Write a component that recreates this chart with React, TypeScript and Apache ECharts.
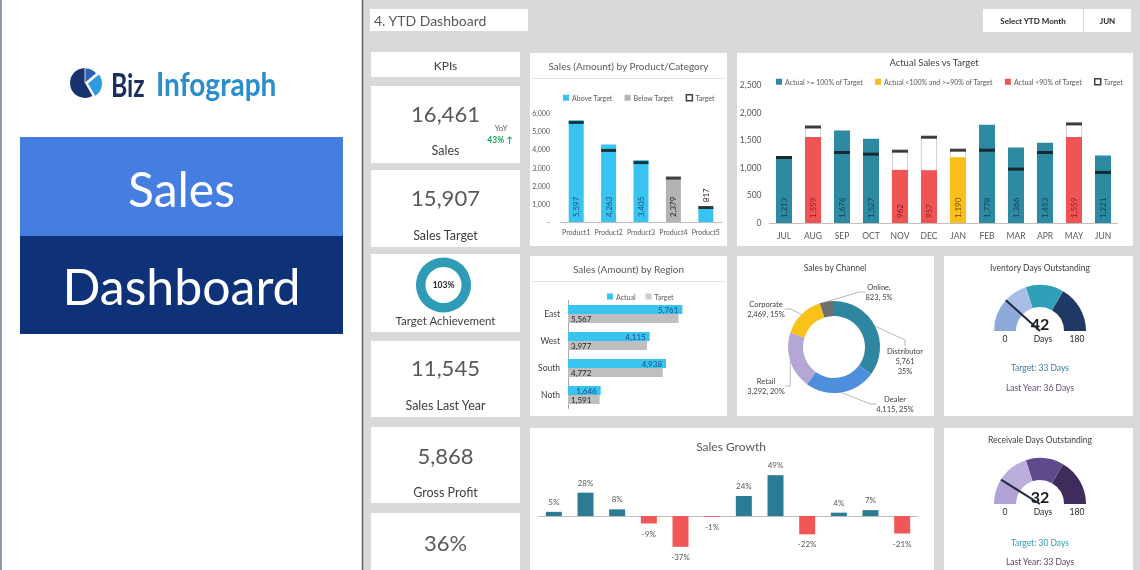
import React, { useEffect, useRef } from 'react';
import * as echarts from 'echarts';

const FONT = 'Lato, "Open Sans", sans-serif';

// KPI figures
const kpiSales = 16461;
const kpiSalesTarget = 15907;
const kpiSalesLastYear = 11545;
const kpiGrossProfit = 5868;

// Sales by product
const products = ['Product1', 'Product2', 'Product3', 'Product4', 'Product5'];
const productSales = [5597, 4263, 3405, 2379, 817];
const productTarget = [5480, 3940, 3270, 2420, 797];
const productTicks = [0, 1000, 2000, 3000, 4000, 5000, 6000];

// Monthly actual vs target
const months = ['JUL', 'AUG', 'SEP', 'OCT', 'NOV', 'DEC', 'JAN', 'FEB', 'MAR', 'APR', 'MAY', 'JUN'];
const monthActual = [1213, 1559, 1676, 1527, 962, 957, 1190, 1778, 1366, 1453, 1559, 1221];
const monthTarget = [1187, 1739, 1277, 1247, 1301, 1554, 1319, 1319, 976, 1277, 1795, 916];
const monthTicks = [0, 500, 1000, 1500, 2000, 2500];

// Sales by region
const regions = ['East', 'West', 'South', 'Noth'];
const regionActual = [5761, 4115, 4938, 1646];
const regionTarget = [5567, 3977, 4772, 1591];

// Sales by channel
const channels = ['Distributor', 'Dealer', 'Retail', 'Corporate', 'Online'];
const channelSales = [5761, 4115, 3292, 2469, 823];

// Year-over-year growth per month (%)
const growthPct = [5, 28, 8, -9, -37, -1, 24, 49, -22, 4, 7, -21];

// Days outstanding
const gaugeRange = [0, 180];
const inventoryDays = 42;
const inventoryTargetDays = 33;
const inventoryLastYearDays = 36;
const receivableDays = 32;
const receivableTargetDays = 30;
const receivableLastYearDays = 33;

const fmt = (v: number) => v.toLocaleString('en-US');

const TEAL = '#2c8aa3';
const YELLOW = '#fbbf1c';
const RED = '#f05555';
const SKY = '#38c3f0';
const GREY_BAR = '#b3b3b3';

const txt = (x: number, y: number, text: string, size: number, fill: string, extra: any = {}) => ({
  type: 'text',
  x,
  y,
  z: 30,
  silent: true,
  style: {
    text,
    fontSize: size,
    fill,
    fontFamily: FONT,
    align: 'center',
    verticalAlign: 'middle',
    ...extra,
  },
});

const box = (x: number, y: number, w: number, h: number, fill = '#ffffff') => ({
  type: 'rect',
  z: -5,
  silent: true,
  shape: { x, y, width: w, height: h },
  style: { fill },
});

const hline = (x1: number, x2: number, y: number, stroke = '#e3e3e3') => ({
  type: 'line',
  z: -4,
  silent: true,
  shape: { x1, y1: y, x2, y2: y },
  style: { stroke, lineWidth: 1 },
});

const deg = (d: number) => (d * Math.PI) / 180;

function gauge(center: number[], value: number, colors: [number, string][]) {
  return {
    type: 'gauge',
    center,
    radius: 46,
    startAngle: 180,
    endAngle: 0,
    min: gaugeRange[0],
    max: gaugeRange[1],
    silent: true,
    axisLine: { lineStyle: { width: 22, color: colors } },
    splitLine: { show: false },
    axisTick: { show: false },
    axisLabel: { show: false },
    pointer: { icon: 'rect', length: '100%', width: 2, itemStyle: { color: '#1f2a3a' } },
    anchor: { show: false },
    title: { offsetCenter: [3, 8], fontSize: 8.5, color: '#262626', fontFamily: FONT },
    detail: { offsetCenter: [0, -8], fontSize: 16, color: '#1a1a1a', fontFamily: FONT, formatter: '{value}' },
    data: [{ value, name: 'Days' }],
  };
}

function buildOption(): any {
  const achievement = Math.round((kpiSales / kpiSalesTarget) * 100);
  const yoy = Math.round(((kpiSales - kpiSalesLastYear) / kpiSalesLastYear) * 100);
  const gpPct = Math.round((kpiGrossProfit / kpiSales) * 100);

  const graphics: any[] = [
    // left banner
    box(0, 0, 363, 570, '#ffffff'),
    { type: 'line', z: -3, silent: true, shape: { x1: 1, y1: 0, x2: 1, y2: 570 }, style: { stroke: '#8c99a6', lineWidth: 2 } },
    { type: 'line', z: -3, silent: true, shape: { x1: 362.5, y1: 0, x2: 362.5, y2: 570 }, style: { stroke: '#5d6772', lineWidth: 1.5 } },
    // logo mark
    { type: 'sector', z: 5, silent: true, shape: { cx: 85, cy: 83, r: 15, r0: 0, startAngle: deg(60), endAngle: deg(270), clockwise: true }, style: { fill: '#16336e' } },
    { type: 'sector', z: 5, silent: true, shape: { cx: 85, cy: 83, r: 15, r0: 0, startAngle: deg(270), endAngle: deg(320), clockwise: true }, style: { fill: '#2a5fb5', stroke: '#fff', lineWidth: 0.8 } },
    { type: 'sector', z: 5, silent: true, shape: { cx: 87.5, cy: 83.5, r: 15, r0: 0, startAngle: deg(320), endAngle: deg(420), clockwise: true }, style: { fill: '#2e9be0', stroke: '#fff', lineWidth: 1 } },
    { ...txt(111, 84, 'Biz', 33, '#1b2e5e', { align: 'left', fontWeight: 'bold' }), scaleX: 0.75 },
    { ...txt(156, 84, 'Infograph', 33, '#2b8cce', { align: 'left', fontWeight: 'bold' }), scaleX: 0.85 },
    box(20, 137, 323, 99, '#467de0'),
    box(20, 236, 323, 98, '#0f3178'),
    txt(181.5, 188, 'Sales', 48, '#ffffff'),
    txt(181.5, 286, 'Dashboard', 50, '#ffffff'),

    // dashboard area
    box(363, 0, 777, 570, '#d9d9d9'),
    box(370, 9, 158, 22),
    txt(374, 20, '4. YTD Dashboard', 14, '#595959', { align: 'left' }),
    box(983, 9, 100, 23),
    box(1084, 9, 47, 23),
    txt(1033, 20.5, 'Select YTD Month', 8, '#262626', { fontWeight: 'bold' }),
    txt(1107.5, 20.5, 'JUN', 8, '#262626', { fontWeight: 'bold' }),

    // KPI column
    box(371, 52, 149, 25),
    txt(445.5, 65, 'KPIs', 12, '#404040'),
    box(371, 86, 149, 77),
    txt(445.5, 113, fmt(kpiSales), 22, '#595959'),
    txt(445.5, 150, 'Sales', 12.5, '#404040'),
    txt(501, 128, 'YoY', 8, '#595959'),
    txt(500, 139.5, `${yoy}% \u2191`, 8.5, '#1aa55a', { fontWeight: 'bold' }),
    box(371, 170, 149, 77),
    txt(445.5, 197, fmt(kpiSalesTarget), 22, '#595959'),
    txt(445.5, 235, 'Sales Target', 12.5, '#404040'),
    box(371, 254, 149, 78),
    txt(445.5, 320, 'Target Achievement', 11.5, '#404040'),
    box(371, 341, 149, 76),
    txt(445.5, 367, fmt(kpiSalesLastYear), 22, '#595959'),
    txt(445.5, 405, 'Sales Last Year', 12.5, '#404040'),
    box(371, 427, 149, 76),
    txt(445.5, 455, fmt(kpiGrossProfit), 22, '#595959'),
    txt(445.5, 492, 'Gross Profit', 12.5, '#404040'),
    box(371, 513, 149, 60),
    txt(445.5, 542, `${gpPct}%`, 22, '#595959'),

    // chart panels
    box(530, 53, 197, 193),
    txt(628.5, 66, 'Sales (Amount) by Product/Category', 10, '#595959'),
    hline(532, 725, 78.5),
    box(737, 53, 396, 193),
    txt(934, 62, 'Actual Sales vs Target', 9.5, '#404040'),
    box(530, 256, 197, 160),
    txt(628.5, 268.5, 'Sales (Amount) by Region', 10, '#595959'),
    hline(532, 725, 281.5),
    box(737, 256, 197, 160),
    txt(835, 267.5, 'Sales by Channel', 8.5, '#404040'),
    box(944, 256, 189, 160),
    txt(1040, 268, 'Iventory Days Outstanding', 8.5, '#404040'),
    txt(1005, 339, String(gaugeRange[0]), 8.5, '#262626'),
    txt(1077, 339, String(gaugeRange[1]), 8.5, '#262626'),
    txt(1040, 368, `Target: ${inventoryTargetDays} Days`, 8.5, '#3b7ea6'),
    txt(1040, 388, `Last Year: ${inventoryLastYearDays} Days`, 8.5, '#5e4a76'),
    box(530, 428, 404, 142),
    txt(731, 446, 'Sales Growth', 12, '#595959'),
    box(944, 428, 189, 142),
    txt(1040, 440, 'Receivale Days Outstanding', 8.5, '#404040'),
    txt(1005, 512, String(gaugeRange[0]), 8.5, '#262626'),
    txt(1077, 512, String(gaugeRange[1]), 8.5, '#262626'),
    txt(1040, 543, `Target: ${receivableTargetDays} Days`, 8.5, '#2e9bb5'),
    txt(1040, 562, `Last Year: ${receivableLastYearDays} Days`, 8.5, '#5f3a5f'),
  ];

  const rotLabel = (color: string) => ({
    show: true,
    position: 'insideBottom',
    rotate: 90,
    align: 'left',
    verticalAlign: 'middle',
    distance: 5,
    fontSize: 8,
    fontFamily: FONT,
    color,
    formatter: (p: any) => fmt(p.value),
  });

  const productItem = (v: number) =>
    v < 1200 ? { value: v, label: { position: 'top', color: '#262626' } } : v;

  const legendText = { fontSize: 7, color: '#595959', fontFamily: FONT, padding: [0, 0, 0, -2] };
  const targetLegend = {
    name: 'Target',
    icon: 'rect',
    itemStyle: { color: '#ffffff', borderColor: '#111111', borderWidth: 1.5 },
  };

  const channelColors = ['#2e86a0', '#4d8fdc', '#b4a7d6', '#f9c21b', '#6f6f6f'];
  const channelLabelAt = [
    [905, 361],
    [895, 404],
    [766, 386],
    [766, 309],
    [879, 292],
  ];

  return {
    animation: false,
    textStyle: { fontFamily: FONT },
    graphic: { elements: graphics },
    legend: [
      {
        left: 558,
        top: 89,
        itemWidth: 6,
        itemHeight: 6,
        itemGap: 12,
        textStyle: legendText,
        selectedMode: false,
        data: [
          { name: 'Above Target', icon: 'rect', itemStyle: { color: SKY } },
          { name: 'Below Target', icon: 'rect', itemStyle: { color: GREY_BAR } },
          targetLegend,
        ],
      },
      {
        left: 771,
        top: 73,
        itemWidth: 6,
        itemHeight: 6,
        itemGap: 12,
        textStyle: legendText,
        selectedMode: false,
        data: [
          { name: 'Actual >= 100% of Target', icon: 'rect', itemStyle: { color: TEAL } },
          { name: 'Actual <100% and >=90% of Target', icon: 'rect', itemStyle: { color: YELLOW } },
          { name: 'Actual <90% of Target', icon: 'rect', itemStyle: { color: RED } },
          targetLegend,
        ],
      },
      {
        left: 602,
        top: 288,
        itemWidth: 6,
        itemHeight: 6,
        itemGap: 10,
        textStyle: legendText,
        selectedMode: false,
        data: [
          { name: 'Actual', icon: 'rect', itemStyle: { color: SKY } },
          { name: 'Target', icon: 'rect', itemStyle: { color: '#bfbfbf' } },
        ],
      },
    ],
    grid: [
      { left: 560, top: 113, width: 162, height: 109 },
      { left: 769.5, top: 85, width: 348, height: 138 },
      { left: 568, top: 300.5, width: 139, height: 108 },
      { left: 538, top: 466, width: 380, height: 100 },
    ],
    xAxis: [
      {
        type: 'category',
        gridIndex: 0,
        data: products,
        axisLine: { lineStyle: { color: '#bfbfbf' } },
        axisTick: { length: 3, lineStyle: { color: '#bfbfbf' } },
        axisLabel: { interval: 0, fontSize: 7, color: '#595959', margin: 6, fontFamily: FONT },
      },
      {
        type: 'category',
        gridIndex: 1,
        data: months,
        axisLine: { lineStyle: { color: '#bfbfbf' } },
        axisTick: { length: 3, lineStyle: { color: '#bfbfbf' } },
        axisLabel: { interval: 0, fontSize: 8.5, color: '#595959', margin: 8, fontFamily: FONT },
      },
      { type: 'value', gridIndex: 2, min: 0, max: 7000, show: false },
      {
        type: 'category',
        gridIndex: 3,
        data: months,
        axisLine: { lineStyle: { color: '#bfbfbf' } },
        axisTick: { length: 3, lineStyle: { color: '#bfbfbf' } },
        axisLabel: { show: false },
      },
    ],
    yAxis: [
      {
        type: 'value',
        gridIndex: 0,
        min: productTicks[0],
        max: productTicks[productTicks.length - 1],
        interval: productTicks[1] - productTicks[0],
        splitLine: { show: false },
        axisLine: { show: false },
        axisTick: { show: false },
        axisLabel: {
          fontSize: 7,
          color: '#595959',
          margin: 10,
          fontFamily: FONT,
          formatter: (v: number) => (v === 0 ? '-' : fmt(v)),
        },
      },
      {
        type: 'value',
        gridIndex: 1,
        min: monthTicks[0],
        max: monthTicks[monthTicks.length - 1],
        interval: monthTicks[1] - monthTicks[0],
        splitLine: { show: false },
        axisLine: { show: false },
        axisTick: { show: false },
        axisLabel: { fontSize: 8.5, color: '#595959', margin: 8, fontFamily: FONT, formatter: (v: number) => fmt(v) },
      },
      {
        type: 'category',
        gridIndex: 2,
        data: regions,
        inverse: true,
        axisLine: { lineStyle: { color: '#a6a6a6' } },
        axisTick: { length: 3, lineStyle: { color: '#a6a6a6' } },
        axisLabel: { interval: 0, fontSize: 8.5, color: '#404040', margin: 8, fontFamily: FONT },
      },
      { type: 'value', gridIndex: 3, min: -60, max: 60, show: false },
    ],
    series: [
      // product bars
      {
        name: 'Above Target',
        type: 'bar',
        xAxisIndex: 0,
        yAxisIndex: 0,
        stack: 'product',
        barWidth: 15,
        silent: true,
        itemStyle: { color: SKY },
        label: rotLabel('#1f4e79'),
        data: productSales.map((v, i) => (v >= productTarget[i] ? productItem(v) : '-')),
      },
      {
        name: 'Below Target',
        type: 'bar',
        xAxisIndex: 0,
        yAxisIndex: 0,
        stack: 'product',
        barWidth: 15,
        silent: true,
        itemStyle: { color: GREY_BAR },
        label: rotLabel('#262626'),
        data: productSales.map((v, i) => (v < productTarget[i] ? productItem(v) : '-')),
      },
      {
        name: 'Target',
        type: 'scatter',
        xAxisIndex: 0,
        yAxisIndex: 0,
        symbol: 'rect',
        symbolSize: [15, 3],
        z: 5,
        silent: true,
        itemStyle: { color: '#111111' },
        data: productTarget,
      },

      // monthly target frame behind actual bars
      {
        name: 'Target range',
        type: 'bar',
        xAxisIndex: 1,
        yAxisIndex: 1,
        barWidth: 16,
        barGap: '-100%',
        silent: true,
        itemStyle: { color: '#ffffff', borderColor: '#c4c4c4', borderWidth: 0.8 },
        data: monthTarget,
      },
      {
        name: 'Actual >= 100% of Target',
        type: 'bar',
        xAxisIndex: 1,
        yAxisIndex: 1,
        stack: 'actual',
        barWidth: 16,
        barGap: '-100%',
        silent: true,
        itemStyle: { color: TEAL },
        label: rotLabel('#173f52'),
        data: monthActual.map((v, i) => (v >= monthTarget[i] ? v : '-')),
      },
      {
        name: 'Actual <100% and >=90% of Target',
        type: 'bar',
        xAxisIndex: 1,
        yAxisIndex: 1,
        stack: 'actual',
        barWidth: 16,
        barGap: '-100%',
        silent: true,
        itemStyle: { color: YELLOW },
        label: rotLabel('#6b4d00'),
        data: monthActual.map((v, i) => (v < monthTarget[i] && v >= 0.9 * monthTarget[i] ? v : '-')),
      },
      {
        name: 'Actual <90% of Target',
        type: 'bar',
        xAxisIndex: 1,
        yAxisIndex: 1,
        stack: 'actual',
        barWidth: 16,
        barGap: '-100%',
        silent: true,
        itemStyle: { color: RED },
        label: rotLabel('#8e1c1c'),
        data: monthActual.map((v, i) => (v < 0.9 * monthTarget[i] ? v : '-')),
      },
      {
        name: 'Target',
        type: 'scatter',
        xAxisIndex: 1,
        yAxisIndex: 1,
        symbol: 'rect',
        symbolSize: [16, 3],
        z: 5,
        silent: true,
        itemStyle: { color: '#111111' },
        data: monthTarget,
      },

      // region bars
      {
        name: 'Actual',
        type: 'bar',
        xAxisIndex: 2,
        yAxisIndex: 2,
        barWidth: 9,
        barGap: '0%',
        silent: true,
        itemStyle: { color: SKY },
        label: {
          show: true,
          position: 'insideRight',
          distance: 4,
          fontSize: 8,
          color: '#1f4e79',
          fontFamily: FONT,
          formatter: (p: any) => fmt(p.value),
        },
        data: regionActual,
      },
      {
        name: 'Target',
        type: 'bar',
        xAxisIndex: 2,
        yAxisIndex: 2,
        barWidth: 9,
        barGap: '0%',
        silent: true,
        itemStyle: { color: '#bfbfbf' },
        label: {
          show: true,
          position: 'insideLeft',
          distance: 3,
          fontSize: 8,
          color: '#262626',
          fontFamily: FONT,
          formatter: (p: any) => fmt(p.value),
        },
        data: regionTarget,
      },

      // growth
      {
        name: 'Growth',
        type: 'bar',
        xAxisIndex: 3,
        yAxisIndex: 3,
        barWidth: 16,
        silent: true,
        label: {
          show: true,
          fontSize: 8,
          color: '#595959',
          distance: 6,
          fontFamily: FONT,
          formatter: (p: any) => `${p.value}%`,
        },
        data: growthPct.map((v) => ({
          value: v,
          itemStyle: { color: v >= 0 ? '#2b7b94' : '#f25757' },
          label: { position: v >= 0 ? 'top' : 'bottom' },
        })),
      },

      // target achievement ring
      {
        name: 'Achievement',
        type: 'pie',
        center: [443.5, 285],
        radius: [18, 27.5],
        silent: true,
        label: { show: false },
        labelLine: { show: false },
        data: [
          {
            value: achievement,
            name: 'Achieved',
            itemStyle: { color: '#2e9cb6' },
            label: {
              show: true,
              position: 'center',
              formatter: `${achievement}%`,
              fontSize: 8.5,
              fontWeight: 'bold',
              color: '#262626',
              fontFamily: FONT,
            },
          },
          { value: Math.max(0, 100 - achievement), name: 'Remaining', itemStyle: { color: '#e6e6e6' } },
        ],
      },

      // channel donut
      {
        name: 'Channel',
        type: 'pie',
        center: [834, 347],
        radius: [31, 46],
        startAngle: 90,
        clockwise: true,
        silent: true,
        percentPrecision: 0,
        label: {
          show: true,
          fontSize: 7.5,
          lineHeight: 10,
          color: '#404040',
          fontFamily: FONT,
          formatter: (p: any) => {
            const v = fmt(p.value);
            if (p.name === 'Online') return `${p.name},\n${v}, ${p.percent}%`;
            if (p.name === 'Distributor') return `${p.name}\n${v}\n${p.percent}%`;
            return `${p.name}\n${v}, ${p.percent}%`;
          },
        },
        labelLine: { show: true, length: 6, length2: 6, lineStyle: { color: '#a6a6a6', width: 0.8 } },
        labelLayout: (params: any) => {
          const at = channelLabelAt[params.dataIndex];
          return { x: at[0], y: at[1], align: 'center', verticalAlign: 'middle' };
        },
        data: channels.map((name, i) => ({
          name,
          value: channelSales[i],
          itemStyle: { color: channelColors[i] },
        })),
      },

      // days outstanding gauges
      gauge([1040, 331], inventoryDays, [
        [inventoryDays / gaugeRange[1], '#8eaadb'],
        [72 / 180, '#a8bee6'],
        [120 / 180, '#2fa0b8'],
        [1, '#203864'],
      ]),
      gauge([1040, 504], receivableDays, [
        [receivableDays / gaugeRange[1], '#b2a2d6'],
        [72 / 180, '#bbaedd'],
        [120 / 180, '#5f4b8b'],
        [1, '#3e2d5c'],
      ]),
    ],
  };
}

export default function App() {
  const ref = useRef<HTMLDivElement>(null);
  useEffect(() => {
    if (!ref.current) return;
    const chart = echarts.init(ref.current, undefined, { renderer: 'svg', width: 1140, height: 570 });
    chart.setOption(buildOption());
    return () => chart.dispose();
  }, []);
  return <div ref={ref} style={{ position: 'fixed', left: 0, top: 0, width: 1140, height: 570 }} />;
}
